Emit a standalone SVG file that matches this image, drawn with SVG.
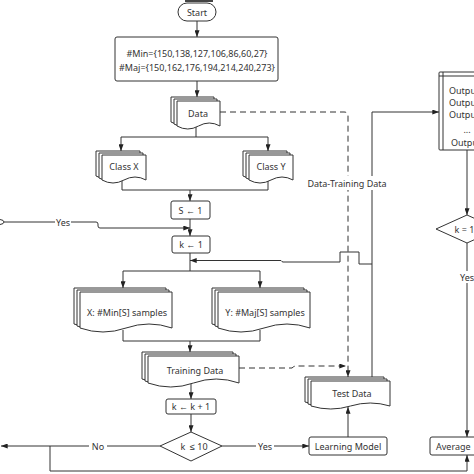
<svg xmlns="http://www.w3.org/2000/svg" xmlns:xlink="http://www.w3.org/1999/xlink" width="474" height="474" viewBox="0 0 474 474">
<style>
.n{fill:#fff;stroke:#333;stroke-width:1}
.t{font-family:"Noto Sans","Liberation Sans",sans-serif;font-size:9px;fill:#333;text-anchor:middle;dominant-baseline:central}
.c{fill:none;stroke:#333;stroke-width:1}
.a{marker-end:url(#ah)}
.d{fill:none;stroke:#333;stroke-width:1;stroke-dasharray:6,4}
.lb{fill:#fff}
</style>
<defs>
<marker id="ah" viewBox="0 0 8 6" refX="8" refY="3" markerWidth="7" markerHeight="5" orient="auto" markerUnits="userSpaceOnUse"><path d="M0,0 L8,3 L0,6 Z" fill="#222"/></marker>
<path id="docData" d="M177,101 H220 V126 Q209.25,120 198.5,126 Q187.75,132 177,126 Z"/>
<path id="docCX" d="M102,155 H146 V180 Q135,174 124,180 Q113,186 102,180 Z"/>
<path id="docCY" d="M249,155 H293 V180 Q282,174 271,180 Q260,186 249,180 Z"/>
<path id="docXS" d="M80,292 H172 V328 Q149,320 126,328 Q103,336 80,328 Z"/>
<path id="docYS" d="M218,292 H310 V328 Q287,320 264,328 Q241,336 218,328 Z"/>
<path id="docTr" d="M148,356 H239 V383 Q216.25,375 193.5,383 Q170.75,391 148,383 Z"/>
<path id="docTe" d="M311,381 H390 V406 Q370.25,400 350.5,406 Q330.75,412 311,406 Z"/>
</defs>
<rect x="0" y="0" width="474" height="474" fill="#fff"/>
<rect x="185" y="0" width="28" height="2" fill="#444"/>

<g id="connectors">
<path class="c a" d="M197,21 V37"/>
<path class="c a" d="M197,81 V97"/>
<path class="c" d="M196,127 V137 M121,137 H268"/>
<path class="c a" d="M121,137 V151"/>
<path class="c a" d="M268,137 V151"/>
<path class="c" d="M122,181 V190 H268 V181"/>
<path class="c a" d="M190,190 V201"/>
<path class="c a" d="M190,219 V236"/>
<path class="c" d="M0,219.5 Q4,220 4,222 Q4,224 0,224.5"/>
<path class="c a" d="M4,222 H96 Q98,222 98,224 V226 Q98,228 100,228 H190"/>
<path class="c" d="M190,253 V271 M123,271 H260"/>
<path class="c a" d="M123,271 V288"/>
<path class="c a" d="M260,271 V288"/>
<path class="c a" d="M372,264 H359 V252 H340 V262 H283 Q282,262 281,260.5 H190"/>
<path class="c" d="M123,330 V341 H260 V330"/>
<path class="c a" d="M190,341 V352"/>
<path class="c a" d="M191,384 V399"/>
<path class="c a" d="M191,414 V432"/>
<path class="c a" d="M222,446 H309"/>
<path class="c a" d="M160,446 H1"/>
<path class="c a" d="M50,446 V471 H467 V455"/>
<path class="c a" d="M348,437 V407"/>
<path class="c a" d="M372,377 V112 H439"/>
<path class="c a" d="M467,150 V215"/>
<path class="c a" d="M467,243 V437"/>
<path class="d a" d="M220,112 H344 Q348,112 348,116 V377"/>
<path class="d a" d="M239,368 H292 Q294,366 296,366 H346"/>
<rect class="lb" x="306" y="176" width="83" height="14"/>
<text class="t" x="347" y="183">Data-Training Data</text>
<rect class="lb" x="55" y="216" width="16" height="12"/>
<text class="t" x="63" y="222">Yes</text>
<rect class="lb" x="89" y="440" width="18" height="12"/>
<text class="t" x="98" y="446">No</text>
<rect class="lb" x="256" y="440" width="18" height="12"/>
<text class="t" x="265" y="446">Yes</text>
<rect class="lb" x="458" y="271" width="18" height="12"/>
<text class="t" x="467" y="277">Yes</text>
</g>

<g id="start"><rect class="n" x="178" y="3" width="38" height="18" rx="9"/><text class="t" x="197" y="12.5">Start</text></g>
<g id="init"><rect class="n" x="115" y="37" width="163" height="44" rx="2"/><text class="t" x="197" y="53">#Min={150,138,127,106,86,60,27}</text><text class="t" x="197" y="67">#Maj={150,162,176,194,214,240,273}</text></g>
<g id="data"><use class="n" xlink:href="#docData" transform="translate(-6,-4)"/><use class="n" xlink:href="#docData" transform="translate(-3,-2)"/><use class="n" xlink:href="#docData"/><text class="t" x="198" y="113">Data</text></g>
<g id="classX"><use class="n" xlink:href="#docCX" transform="translate(-6,-4)"/><use class="n" xlink:href="#docCX" transform="translate(-3,-2)"/><use class="n" xlink:href="#docCX"/><text class="t" x="124" y="166">Class X</text></g>
<g id="classY"><use class="n" xlink:href="#docCY" transform="translate(-6,-4)"/><use class="n" xlink:href="#docCY" transform="translate(-3,-2)"/><use class="n" xlink:href="#docCY"/><text class="t" x="271" y="166">Class Y</text></g>
<g id="s1"><rect class="n" x="171" y="201" width="39" height="18" rx="2"/><text class="t" x="190.5" y="210">S ← 1</text></g>
<g id="k1"><rect class="n" x="172" y="236" width="38" height="17" rx="2"/><text class="t" x="191" y="244.5">k ← 1</text></g>
<g id="xs"><use class="n" xlink:href="#docXS" transform="translate(-6,-4)"/><use class="n" xlink:href="#docXS" transform="translate(-3,-2)"/><use class="n" xlink:href="#docXS"/><text class="t" x="127" y="312">X: #Min[S] samples</text></g>
<g id="ys"><use class="n" xlink:href="#docYS" transform="translate(-6,-4)"/><use class="n" xlink:href="#docYS" transform="translate(-3,-2)"/><use class="n" xlink:href="#docYS"/><text class="t" x="265" y="312">Y: #Maj[S] samples</text></g>
<g id="train"><use class="n" xlink:href="#docTr" transform="translate(-6,-4)"/><use class="n" xlink:href="#docTr" transform="translate(-3,-2)"/><use class="n" xlink:href="#docTr"/><text class="t" x="195" y="370">Training Data</text></g>
<g id="kinc"><rect class="n" x="166" y="399" width="50" height="15" rx="2"/><text class="t" x="191" y="406.5">k ← k + 1</text></g>
<g id="cond"><path class="n" d="M191,432 L222,446 L191,461 L160,446 Z"/><text class="t" x="194" y="446.5">k&#160;&#160;≤ 10</text></g>
<g id="learn"><rect class="n" x="309" y="437" width="78" height="18" rx="2"/><text class="t" x="348" y="446">Learning Model</text></g>
<g id="test"><use class="n" xlink:href="#docTe" transform="translate(-6,-4)"/><use class="n" xlink:href="#docTe" transform="translate(-3,-2)"/><use class="n" xlink:href="#docTe"/><text class="t" x="352" y="393">Test Data</text></g>
<g id="outputs"><rect class="n" x="439" y="72" width="70" height="78" rx="1"/><path class="c" d="M439,76 H509 M443,72 V150"/>
<text class="t" x="449" y="90" style="text-anchor:start">Output</text>
<text class="t" x="449" y="102" style="text-anchor:start">Output</text>
<text class="t" x="449" y="114" style="text-anchor:start">Output</text>
<text class="t" x="467" y="129">...</text>
<text class="t" x="451" y="142" style="text-anchor:start">Output</text></g>
<g id="cond2"><path class="n" d="M467,215 L498,229 L467,243 L436,229 Z"/><text class="t" x="467" y="229.5">k = 10</text></g>
<g id="avg"><rect class="n" x="430" y="437" width="80" height="18" rx="2"/><text class="t" x="436" y="446" style="text-anchor:start">Average</text></g>
</svg>
